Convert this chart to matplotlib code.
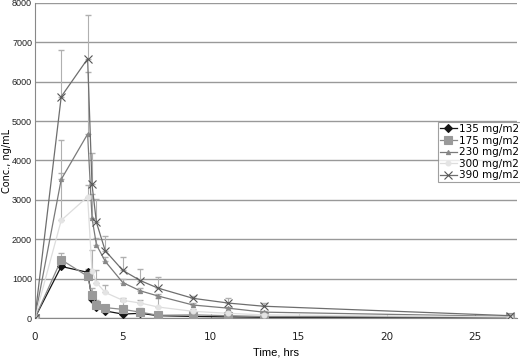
import matplotlib
matplotlib.use('Agg')
import matplotlib.pyplot as plt
import numpy as np

time_hrs = [0, 1.5, 3, 3.25, 3.5, 4, 5, 6, 7, 9, 11, 13, 27]

c135 = [0, 1310, 1160, 480, 290, 180, 100, 120, 60, 40, 30, 20, 10]
e135 = [0, 60, 80, 60, 30, 20, 20, 20, 20, 10, 10, 10, 0]
c175 = [0, 1480, 1060, 590, 340, 265, 220, 150, 70, 80, 60, 40, 20]
e175 = [0, 170, 100, 170, 130, 60, 200, 110, 80, 20, 20, 20, 0]
c230 = [0, 3520, 4670, 2540, 1860, 1440, 900, 690, 560, 330, 250, 150, 40]
e230 = [0, 1000, 1580, 600, 180, 100, 80, 70, 60, 40, 40, 30, 0]
c300 = [0, 2480, 3080, 1200, 900, 650, 450, 380, 280, 170, 120, 80, 30]
e300 = [0, 1190, 300, 535, 325, 190, 70, 80, 230, 60, 60, 40, 0]
c390 = [0, 5620, 6580, 3390, 2430, 1710, 1210, 950, 760, 500, 380, 300, 60]
e390 = [0, 1180, 1120, 800, 600, 370, 330, 300, 290, 60, 140, 80, 0]

y_ticks = [0, 1000, 2000, 3000, 4000, 5000, 6000, 7000, 8000]
x_ticks = [0, 5, 10, 15, 20, 25]
labels = ['135 mg/m2', '175 mg/m2', '230 mg/m2', '300 mg/m2', '390 mg/m2']

fig = plt.figure(figsize=(5.2, 3.61), dpi=100)
ax = fig.add_axes([0.067, 0.119, 0.927, 0.873])

styles = [
    (c135, e135, '#151515', 'D', 4.5, '#151515', '#151515'),
    (c175, e175, '#8a8a8a', 's', 5.5, '#9a9a9a', '#9a9a9a'),
    (c230, e230, '#7a7a7a', '^', 3, '#888888', '#888888'),
    (c300, e300, '#dddddd', 'o', 3.5, '#e4e4e4', '#e4e4e4'),
    (c390, e390, '#6e6e6e', 'x', 6, '#555555', 'none'),
]

for (vals, errs, col, mk, ms, mec, mfc), lab in zip(styles, labels):
    lower = np.zeros(len(errs))
    ax.errorbar(time_hrs, vals, yerr=[lower, errs], fmt='none',
                ecolor='#b0b0b0', elinewidth=0.8, capsize=2, zorder=2)
    ax.plot(time_hrs, vals, color=col, lw=0.9, marker=mk, ms=ms,
            mec=mec, mfc=mfc, mew=0.8, label=lab, zorder=3)

ax.set_xlim(0, 27.4)
ax.set_ylim(0, 8000)
ax.set_yticks(y_ticks, labels=[str(v) for v in y_ticks],
              fontfamily='Liberation Sans', fontsize=6.5)
ax.set_xticks(x_ticks)
ax.grid(axis='y', color='#999999', lw=1)
ax.set_axisbelow(True)
for s in ['top', 'right']:
    ax.spines[s].set_visible(False)
ax.spines['left'].set_color('#888888')
ax.spines['bottom'].set_color('#888888')
ax.tick_params(axis='x', direction='in', length=3, color='#999999',
               labelsize=7.5, pad=10, labelcolor='#222222')
ax.tick_params(axis='y', length=0, pad=2, labelcolor='#222222')

ax.set_xlabel('Time, hrs', fontsize=8, family='Liberation Sans')
ax.set_ylabel('Conc., ng/mL', fontsize=7)
ax.yaxis.set_label_coords(-0.048, 0.5)

leg = ax.legend(loc='upper left', bbox_to_anchor=(0.836, 0.622), fontsize=7.5,
                frameon=True, fancybox=False, borderpad=0.2, labelspacing=0.15,
                handlelength=1.6, handletextpad=0.2, borderaxespad=0)
leg.get_frame().set_edgecolor('#888888')
leg.get_frame().set_linewidth(0.8)

fig.savefig('out.png', dpi=100)
